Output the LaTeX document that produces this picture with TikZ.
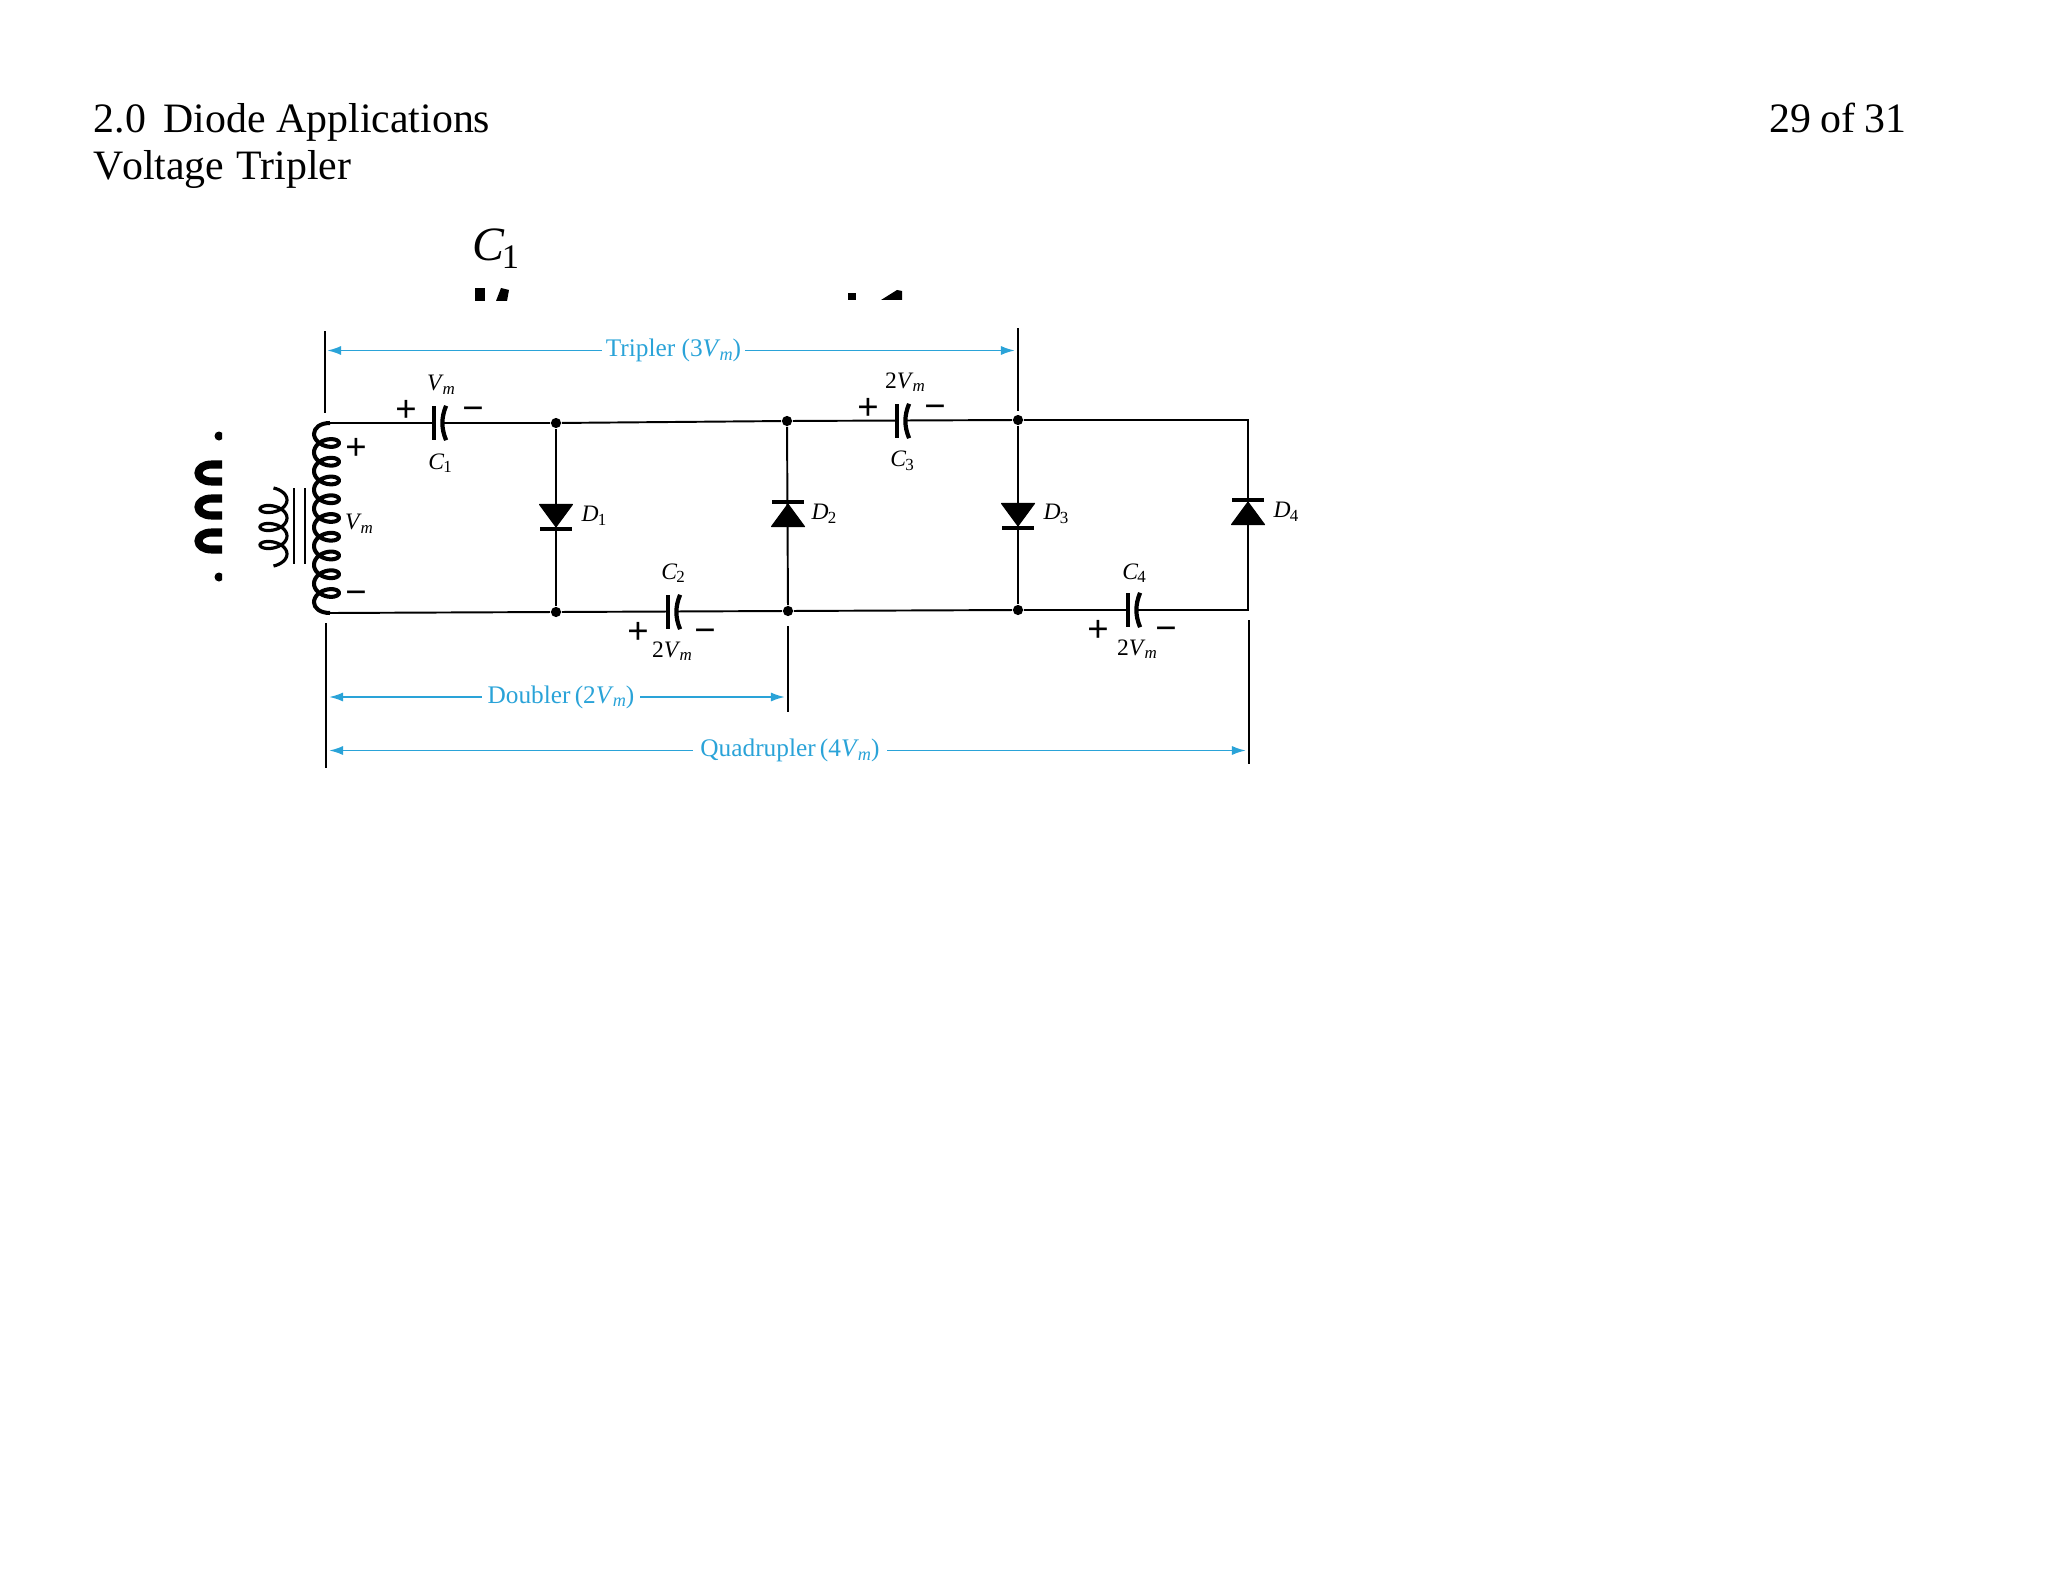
\documentclass[tikz,border=0pt]{standalone}
\usepackage{fontspec}
\setmainfont{Liberation Serif}
\newfontfamily\signfont{Liberation Sans}
\usetikzlibrary{positioning,arrows.meta}
\definecolor{dimblue}{HTML}{2AA3D8}
\newcommand{\subbed}[2]{\textit{#1}\kern-0.04em\raisebox{-0.32ex}{\scalebox{0.72}{#2}}}
\newcommand{\Vmax}{\subbed{V}{\textit{m}}}
\tikzset{
  wire/.style={line width=0.55pt},
  coil/.style={line width=1.15pt},
  dim/.style={dimblue,line width=0.55pt,-{Latex[length=4pt,width=2.6pt]}},
  ext/.style={line width=0.35pt},
  junction/.style={circle,fill,inner sep=0pt,minimum size=2.9pt},
  dimlabel/.style={dimblue,font=\fontsize{7.2}{8}\selectfont,inner sep=0pt},
  lab/.style={font=\fontsize{6.7}{8}\selectfont,inner sep=0pt},
  sign/.style={font=\signfont\fontsize{10.4}{11}\selectfont,inner sep=0pt,text height=6.8pt,text depth=0pt},
  title/.style={font=\fontsize{11.9}{14}\selectfont,inner sep=0pt,anchor=base west},
  pics/capacitor/.style={code={
    \fill[white] (-0.55pt,-1.5pt) rectangle (1.2pt,1.5pt);
    \fill (-1.75pt,-4.9pt) rectangle (-0.55pt,4.9pt);
    \draw[line width=1.2pt] (2.3pt,4.9pt) .. controls (0.9pt,1.5pt) and (0.9pt,-1.5pt) .. (2.3pt,-4.9pt);
  }},
  pics/diode/.style={code={
    \fill[line join=round,draw,line width=0.3pt] (-4.7pt,3.3pt) -- (4.7pt,3.3pt) -- (0,-3.1pt) -- cycle;
    \fill (-4.6pt,-4.2pt) rectangle (4.6pt,-3.1pt);
  }},
}

\begin{document}
\begin{tikzpicture}[x=0.01cm,y=-0.01cm]
  \useasboundingbox (0,0) rectangle (2048,1582);

  % headings
  \node[title] (head1) at (93,133) {2.0\hspace{5pt}Diode Applications};
  \node[title] (head2) at (93,180) {V\kern-0.5pt oltage\kern0.45pt\ Tripler};
  \node[title] (page) at (1769,133) {29\kern-0.4pt\ of\kern-0.45pt\ 31};

  % left-overs of the cropped figure
  \node[inner sep=0pt,font=\fontsize{13.6}{15}\selectfont,anchor=base west] (stray) at (472,261) {\textit{C}\kern-0.9pt\raisebox{-2.2pt}{\scalebox{0.72}{1}}};
  \begin{scope}
    \clip (180,420) rectangle (222,590);
    \fill (219,436) circle (4.5);
    \fill (219,577) circle (4.5);
    \foreach \cy in {473,507,541}
      \draw[line width=2.3pt] (224,\cy-8.5) -- (212,\cy-8.5) .. controls (194,\cy-8.5) and (194,\cy+8.5) .. (212,\cy+8.5) -- (224,\cy+8.5);
  \end{scope}
  \begin{scope}
    \clip (460,288) rectangle (910,301);
    \fill (475,288) rectangle (485,301);
    \fill (501,288) -- (509,290) -- (507,301) -- (496,301) -- cycle;
    \fill (848,293) rectangle (856,300);
    \fill (881,300) -- (897,290) -- (902,291) -- (902,300) -- cycle;
  \end{scope}

  % junctions
  \node[junction] (t1) at (556,423) {};
  \node[junction] (t2) at (787,421) {};
  \node[junction] (t3) at (1018,420) {};
  \coordinate (t4) at (1248,420);
  \node[junction] (b1) at (556,612) {};
  \node[junction] (b2) at (788,611) {};
  \node[junction] (b3) at (1018,610) {};
  \coordinate (b4) at (1248,610);
  \coordinate (t0) at (330,423);
  \coordinate (b0) at (330,613);

  % wires
  \draw[wire] (t0) -- (t1) -- (t2) -- (t3) -- (t4) -- (b4) -- (b3) -- (b2) -- (b1) -- (b0);
  \draw[wire] (t1) -- (b1);
  \draw[wire] (t2) -- (b2);
  \draw[wire] (t3) -- (b3);

  % diodes
  \pic at (556,516) {diode};
  \pic[rotate=180] at (788,515) {diode};
  \pic at (1018,515) {diode};
  \pic[rotate=180] at (1248,513) {diode};
  \node[lab,anchor=west] (d1) at (581,516) {\subbed{D}{1}};
  \node[lab,anchor=west] (d2) at (811,514) {\subbed{D}{2}};
  \node[lab,anchor=west] (d3) at (1043,514) {\subbed{D}{3}};
  \node[lab,anchor=west] (d4) at (1273,512) {\subbed{D}{4}};

  % capacitors
  \pic at (438,423) {capacitor};
  \pic at (901,421) {capacitor};
  \pic at (672,612) {capacitor};
  \pic at (1132,610) {capacitor};
  \node[lab] (c1) at (440,463) {\subbed{C}{1}};
  \node[lab] (c3) at (902,461) {\subbed{C}{3}};
  \node[lab] (c2) at (673,573) {\subbed{C}{2}};
  \node[lab] (c4) at (1134,573) {\subbed{C}{4}};

  % voltages and signs
  \node[lab] (v1) at (441,385) {\Vmax};
  \node[lab] (v2) at (672,651) {2\Vmax};
  \node[lab] (v3) at (905,382) {2\Vmax};
  \node[lab] (v4) at (1137,649) {2\Vmax};
  \node[lab] (v5) at (359,524) {\Vmax};
  \foreach \nm/\sx/\sy/\sg in {p1/406/410/+,m1/473/409/−,p2/638/632/+,m2/705/631/−,p3/868/408/+,m3/935/407/−,p4/1098/630/+,m4/1166/629/−,p5/356/448/+,m5/356/593/−}
    \node[sign] (\nm) at (\sx,\sy) {\sg};

  % transformer
  \draw[coil,line join=round] (t0) .. controls (320,423) and (314,428) .. (314,434)
    -- plot[domain=0:3240,samples=270,smooth,variable=\t] ({326.5-12.5*cos(\t)},{433.6+(\t/360)*18.75+8*sin(\t)})
    .. controls (314,608) and (320,613) .. (b0);
  \draw[line width=0.9pt] plot[domain=-90:1170,samples=110,smooth,variable=\t] ({273.5+13.5*cos(\t)},{500+(\t/360)*18+7.5*sin(\t)});
  \draw[ext] (294,488) -- (294,564);
  \draw[ext] (305,488) -- (305,564);

  % dimensions
  \coordinate (e1a) at (325,331);
  \coordinate (e1b) at (325,413);
  \coordinate (e2a) at (1018,328);
  \coordinate (e2b) at (1018,411);
  \coordinate (e3a) at (326,623);
  \coordinate (e3b) at (326,768);
  \coordinate (e4a) at (788,626);
  \coordinate (e4b) at (788,712);
  \coordinate (e5a) at (1249,620);
  \coordinate (e5b) at (1249,764);
  \draw[ext] (e1a) -- (e1b);
  \draw[ext] (e2a) -- (e2b);
  \draw[ext] (e3a) -- (e3b);
  \draw[ext] (e4a) -- (e4b);
  \draw[ext] (e5a) -- (e5b);

  \coordinate (tl) at (327,350.5);
  \coordinate (tr) at (1015,350.5);
  \coordinate (dl) at (329,697);
  \coordinate (dr) at (785,697);
  \coordinate (ql) at (329,750.5);
  \coordinate (qr) at (1246,750.5);
  \node[dimlabel] (tripler) at (673.5,350.5) {Tripler (3\Vmax)};
  \node[dimlabel] (doubler) at (561,697) {Doubler\,(2\Vmax)};
  \node[dimlabel] (quad) at (790,750.5) {Quadrupler\,(4\Vmax)};
  \draw[dim,shorten <=1pt] (tripler) -- (tl);
  \draw[dim,shorten <=1pt] (tripler) -- (tr);
  \draw[dim,shorten <=1.5pt] (doubler) -- (dl);
  \draw[dim,shorten <=1.5pt] (doubler) -- (dr);
  \draw[dim,shorten <=2pt] (quad) -- (ql);
  \draw[dim,shorten <=2pt] (quad) -- (qr);
\end{tikzpicture}
\end{document}
